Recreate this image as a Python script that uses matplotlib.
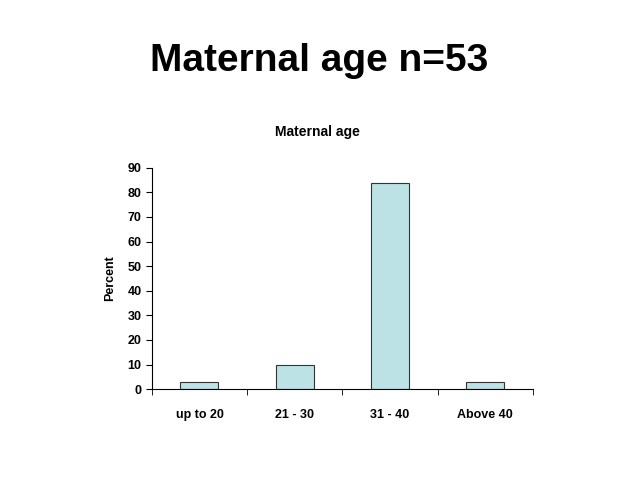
import matplotlib.pyplot as plt
import numpy as np

categories = ['up to 20', '21 - 30', '31 - 40', 'Above 40']
percent = [3, 10, 84, 3]

fig = plt.figure(figsize=(6.38, 4.78), dpi=100)
fig.text(0.5, 0.872, 'Maternal age n=53', ha='center', va='center',
         fontsize=28, fontweight='bold', family='Liberation Sans')
fig.text(0.498, 0.724, 'Maternal age', ha='center', va='center',
         fontsize=10, fontweight='bold', family='Liberation Sans')
ax = fig.add_axes([0.238, 0.186, 0.597, 0.463])
x = np.arange(len(categories))
ax.bar(x, percent, width=0.4, color='#BDE2E6', edgecolor='#333333', linewidth=0.8)
ax.set_xlim(-0.5, len(categories) - 0.5)
ax.set_ylim(0, 90)
ax.set_yticks(range(0, 91, 10))
ax.set_xticks(x)
ax.set_xticklabels(categories, fontsize=9, fontweight='bold', family='Liberation Sans')
ax.set_xticks(np.arange(-0.5, len(categories)), minor=True)
ax.tick_params(axis='x', which='major', length=0, pad=14)
ax.tick_params(axis='x', which='minor', length=4)
ax.tick_params(axis='y', labelsize=9, length=4)
for lab in ax.get_yticklabels():
    lab.set_fontweight('bold')
    lab.set_family('Liberation Sans')
ax.set_ylabel('Percent', fontsize=9, fontweight='bold', family='Liberation Sans', labelpad=8)
ax.spines['top'].set_visible(False)
ax.spines['right'].set_visible(False)
fig.savefig('out.png')
